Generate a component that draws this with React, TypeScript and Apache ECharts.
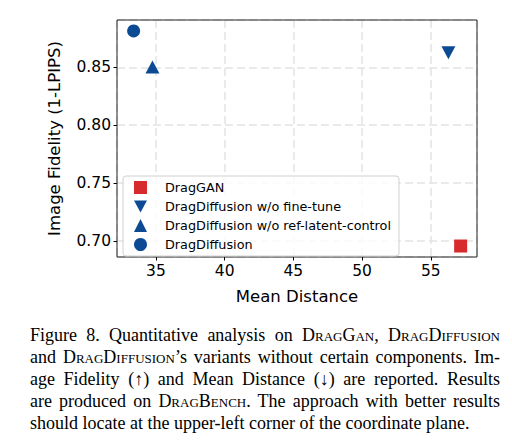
import React, { useEffect, useRef } from 'react';
import * as echarts from 'echarts';

// series names, in legend order
const seriesNames = [
  'DragGAN',
  'DragDiffusion w/o fine-tune',
  'DragDiffusion w/o ref-latent-control',
  'DragDiffusion',
];
// [mean distance, image fidelity]
const dragGan = [[57.17, 0.6955]];
const noFineTune = [[56.28, 0.8627]];
const noRefLatent = [[34.75, 0.8503]];
const dragDiffusion = [[33.38, 0.8815]];

const RED = '#d62a2c';
const BLUE = '#0c4b94';
const DOWN_TRI = 'path://M0,0 L14,0 L7,13 Z';

// words in {braces} are set in small caps
const captionLines = [
  'Figure 8. Quantitative analysis on {DragGan}, {DragDiffusion}',
  'and {DragDiffusion}\u2019s variants without certain components. Im-',
  'age Fidelity (\u2191) and Mean Distance (\u2193) are reported.  Results',
  'are produced on {DragBench}. The approach with better results',
  'should locate at the upper-left corner of the coordinate plane.',
];

const renderLine = (line: string) =>
  line.split(/(\{[^}]+\})/).map((part, j) =>
    part.startsWith('{') ? (
      <span key={j} style={{ fontVariant: 'small-caps' }}>
        {part.slice(1, -1)}
      </span>
    ) : (
      <React.Fragment key={j}>{part}</React.Fragment>
    )
  );

const App: React.FC = () => {
  const chartRef = useRef<HTMLDivElement>(null);

  useEffect(() => {
    const chart = echarts.init(chartRef.current!, null, { renderer: 'svg' });
    const font = 'DejaVu Sans';

    const options = {
      animation: false,
      grid: {
        left: 117,
        top: 20,
        width: 360,
        height: 242,
        show: true,
        borderColor: '#222',
        borderWidth: 1,
        z: 3,
      },
      legend: {
        orient: 'vertical',
        left: 123,
        top: 176,
        padding: [5, 8, 5, 11],
        itemGap: 6,
        itemWidth: 13,
        itemHeight: 13,
        backgroundColor: 'rgba(255,255,255,0.8)',
        borderColor: '#d0d0d0',
        borderWidth: 1,
        borderRadius: 3,
        textStyle: { fontFamily: font, fontSize: 12.8, color: '#000', padding: [0, 0, 0, 13] },
        data: [
          { name: seriesNames[0], icon: 'rect' },
          { name: seriesNames[1], icon: DOWN_TRI },
          { name: seriesNames[2], icon: 'triangle' },
          { name: seriesNames[3], icon: 'circle' },
        ],
      },
      xAxis: {
        type: 'value',
        min: 32.17,
        max: 58.36,
        name: 'Mean Distance',
        nameLocation: 'middle',
        nameGap: 31,
        nameTextStyle: { fontFamily: font, fontSize: 16.5, color: '#000' },
        axisLine: { show: false },
        axisTick: { show: true, length: 3.5, lineStyle: { color: '#000' } },
        axisLabel: {
          fontFamily: font,
          fontSize: 15.5,
          color: '#000',
          margin: 6,
          showMinLabel: false,
          showMaxLabel: false,
        },
        splitLine: { show: true, lineStyle: { color: '#e3e3e3', width: 1.5, type: [8, 4] } },
      },
      yAxis: {
        type: 'value',
        min: 0.686,
        max: 0.891,
        name: 'Image Fidelity (1-LPIPS)',
        nameLocation: 'middle',
        nameRotate: 90,
        nameGap: 54,
        nameTextStyle: { fontFamily: font, fontSize: 16.5, color: '#000' },
        axisLine: { show: false },
        axisTick: { show: true, length: 3.5, lineStyle: { color: '#000' } },
        axisLabel: {
          fontFamily: font,
          fontSize: 15.5,
          color: '#000',
          margin: 6,
          showMinLabel: false,
          showMaxLabel: false,
          formatter: (v: number) => v.toFixed(2),
        },
        splitLine: { show: true, lineStyle: { color: '#e3e3e3', width: 1.5, type: [8, 4] } },
      },
      series: [
        {
          name: seriesNames[0],
          type: 'scatter',
          symbol: 'rect',
          symbolSize: 13,
          itemStyle: { color: RED, opacity: 1 },
          data: dragGan,
        },
        {
          name: seriesNames[1],
          type: 'scatter',
          symbol: DOWN_TRI,
          symbolSize: [14, 13],
          itemStyle: { color: BLUE, opacity: 1 },
          data: noFineTune,
        },
        {
          name: seriesNames[2],
          type: 'scatter',
          symbol: 'triangle',
          symbolSize: [14, 13],
          itemStyle: { color: BLUE, opacity: 1 },
          data: noRefLatent,
        },
        {
          name: seriesNames[3],
          type: 'scatter',
          symbol: 'circle',
          symbolSize: 13,
          itemStyle: { color: BLUE, opacity: 1 },
          data: dragDiffusion,
        },
      ],
    };

    chart.setOption(options);

    return () => {
      chart.dispose();
    };
  }, []);

  return (
    <div style={{ position: 'absolute', left: 0, top: 0, width: 512, height: 446, background: '#fff' }}>
      <div ref={chartRef} style={{ width: 512, height: 310 }} />
      <div
        style={{
          position: 'absolute',
          left: 30,
          top: 324,
          width: 470,
          fontFamily: "'Liberation Serif', 'Times New Roman', serif",
          fontSize: 18,
          lineHeight: '22px',
          color: '#000',
        }}
      >
        {captionLines.map((line, i) => (
          <div
            key={i}
            style={{
              textAlign: 'justify',
              textAlignLast: i < captionLines.length - 1 ? 'justify' : 'left',
              whiteSpace: 'nowrap',
            }}
          >
            {renderLine(line)}
          </div>
        ))}
      </div>
    </div>
  );
};

export default App;
